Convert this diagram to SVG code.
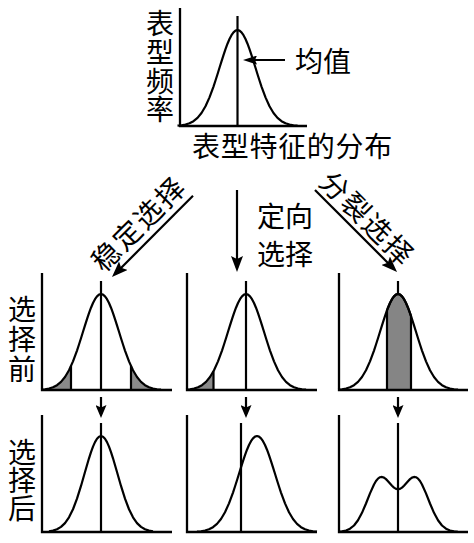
<svg xmlns="http://www.w3.org/2000/svg" xmlns:xlink="http://www.w3.org/1999/xlink" width="474" height="543" viewBox="0 0 474 543">
<style>
.t{font-family:"Noto Sans CJK SC","Noto Sans",sans-serif;font-size:28px;fill:#000}
.v{writing-mode:vertical-rl;text-orientation:upright}
.ax{fill:none;stroke:#000;stroke-width:2.3;stroke-linejoin:miter}
.ln{fill:none;stroke:#000;stroke-width:2.2}
.cv{fill:none;stroke:#000;stroke-width:2.2;stroke-linejoin:round}
.sh{fill:#8a8a8a;stroke:none}
.bd{fill:#858585;stroke:#000;stroke-width:2.2}
.ar{fill:none;stroke:#000;stroke-width:2.2}
</style>
<defs>
<path id="g" d="M-60,-0.37 L-56,-0.76 L-52,-1.48 L-48,-2.74 L-44,-4.84 L-40,-8.12 L-36,-12.99 L-32,-19.77 L-28,-28.63 L-24,-39.47 L-22,-45.48 L-20,-51.78 L-18,-58.23 L-16,-64.67 L-14,-70.94 L-12,-76.87 L-10,-82.27 L-8,-86.97 L-6,-90.81 L-4,-93.66 L-2,-95.41 L0,-96 L2,-95.41 L4,-93.66 L6,-90.81 L8,-86.97 L10,-82.27 L12,-76.87 L14,-70.94 L16,-64.67 L18,-58.23 L20,-51.78 L22,-45.48 L24,-39.47 L28,-28.63 L32,-19.77 L36,-12.99 L40,-8.12 L44,-4.84 L48,-2.74 L52,-1.48 L56,-0.76 L60,-0.37"/>
<path id="n" d="M-52,-0.67 L-48,-1.39 L-44,-2.74 L-40,-5.08 L-36,-8.89 L-32,-14.64 L-28,-22.74 L-24,-33.33 L-20,-46.05 L-16,-59.99 L-12,-73.69 L-10,-79.89 L-8,-85.36 L-6,-89.86 L-4,-93.22 L-2,-95.3 L0,-96 L2,-95.3 L4,-93.22 L6,-89.86 L8,-85.36 L10,-79.89 L12,-73.69 L16,-59.99 L20,-46.05 L24,-33.33 L28,-22.74 L32,-14.64 L36,-8.89 L40,-5.08 L44,-2.74 L48,-1.39 L52,-0.67"/>
<path id="b" d="M-60,-0.24 L-56,-0.63 L-52,-1.5 L-48,-3.28 L-44,-6.51 L-40,-11.72 L-36,-19.18 L-32,-28.51 L-28,-38.6 L-24,-47.52 L-22,-50.94 L-20,-53.39 L-18,-54.78 L-16,-55.08 L-14,-54.39 L-12,-52.88 L-10,-50.8 L-8,-48.48 L-6,-46.25 L-4,-44.38 L-2,-43.16 L0,-42.74 L2,-43.16 L4,-44.38 L6,-46.25 L8,-48.48 L10,-50.8 L12,-52.88 L14,-54.39 L16,-55.08 L18,-54.78 L20,-53.39 L22,-50.94 L24,-47.52 L28,-38.6 L32,-28.51 L36,-19.18 L40,-11.72 L44,-6.51 L48,-3.28 L52,-1.5 L56,-0.63 L60,-0.24"/>
<marker id="big" viewBox="0 0 16 12" markerWidth="16" markerHeight="12" refX="12" refY="6" orient="auto" markerUnits="userSpaceOnUse"><path d="M0,0 L16,6 L0,12 L3,6 Z" fill="#000"/></marker>
<marker id="sm" viewBox="0 0 13 11" markerWidth="13" markerHeight="11" refX="9" refY="5.5" orient="auto" markerUnits="userSpaceOnUse"><path d="M0,0 L13,5.5 L0,11 L2.5,5.5 Z" fill="#000"/></marker>
<marker id="mn" viewBox="0 0 14 9" markerWidth="14" markerHeight="9" refX="10" refY="4.5" orient="auto" markerUnits="userSpaceOnUse"><path d="M0,0 L14,4.5 L0,9 L2,4.5 Z" fill="#000"/></marker>
</defs>

<g id="top-chart">
<use xlink:href="#g" href="#g" class="cv" transform="translate(237.5,126)"/>
<path class="ln" d="M237.5,16 V126"/>
<path class="ax" d="M180,8 V126 H307"/>
<text class="t v" x="160" y="67" text-anchor="middle" letter-spacing="0.8">表型频率</text>
<text class="t" x="292.5" y="157" text-anchor="middle" letter-spacing="0.7">表型特征的分布</text>
</g>

<g id="mean-label">
<text class="t" x="295" y="71.5">均值</text>
</g>

<g id="label-stabilizing">
<text class="t" transform="translate(138.5,223.5) rotate(-45)" x="0" y="10.6" text-anchor="middle" letter-spacing="2">稳定选择</text>
</g>
<g id="label-directional">
<text class="t" x="285" y="227" text-anchor="middle">定向</text>
<text class="t" x="285" y="265" text-anchor="middle">选择</text>
</g>
<g id="label-disruptive">
<text class="t" transform="translate(367.5,218.5) rotate(45)" x="0" y="10.6" text-anchor="middle" letter-spacing="2">分裂选择</text>
</g>

<g id="label-before">
<text class="t v" x="22" y="340" text-anchor="middle" letter-spacing="2">选择前</text>
</g>
<g id="label-after">
<text class="t v" x="22" y="480" text-anchor="middle">选择后</text>
</g>

<g id="before-stabilizing" transform="translate(101,390)">
<path class="sh" d="M-60,0 L-60,-0.37 L-56,-0.76 L-52,-1.48 L-48,-2.74 L-44,-4.84 L-40,-8.12 L-36,-12.99 L-32,-19.77 L-30,-23.94 L-30,0 Z"/>
<path class="sh" d="M60,0 L60,-0.37 L56,-0.76 L52,-1.48 L48,-2.74 L44,-4.84 L40,-8.12 L36,-12.99 L32,-19.77 L30,-23.94 L30,0 Z"/>
<path class="ln" d="M-30,0 V-23.94 M30,0 V-23.94"/>
<use xlink:href="#g" href="#g" class="cv"/>
<path class="ln" d="M0,-109 V0"/>
<path class="ax" d="M-59,-117 V0 H71"/>
</g>

<g id="before-directional" transform="translate(246,390)">
<path class="sh" d="M-60,0 L-60,-0.37 L-56,-0.76 L-52,-1.48 L-48,-2.74 L-44,-4.84 L-40,-8.12 L-36,-12.99 L-32.5,-18.8 L-32.5,0 Z"/>
<path class="ln" d="M-32.5,0 V-18.8"/>
<use xlink:href="#g" href="#g" class="cv"/>
<path class="ln" d="M0,-109 V0"/>
<path class="ax" d="M-59,-117 V0 H71"/>
</g>

<g id="before-disruptive" transform="translate(398,390)">
<path class="bd" d="M-11,0 L-11,-79.65 L-10,-82.27 L-8,-86.97 L-6,-90.81 L-4,-93.66 L-2,-95.41 L0,-96 L2,-95.41 L4,-93.66 L6,-90.81 L8,-86.97 L10,-82.27 L12,-76.87 L13,-73.96 L13,0 Z"/>
<use xlink:href="#g" href="#g" class="cv"/>
<path class="ln" d="M0,-109 V-96"/>
<path class="ax" d="M-59,-117 V0 H70"/>
</g>

<g id="after-stabilizing" transform="translate(101,532)">
<use xlink:href="#n" href="#n" class="cv"/>
<path class="ln" d="M0,-109 V0"/>
<path class="ax" d="M-59,-117 V0 H71"/>
</g>

<g id="after-directional" transform="translate(187,532)">
<use xlink:href="#g" href="#g" class="cv" transform="translate(70,0)"/>
<path class="ln" d="M54,-109 V0"/>
<path class="ax" d="M0,-117 V0 H130"/>
</g>

<g id="after-disruptive" transform="translate(398,532)">
<use xlink:href="#b" href="#b" class="cv"/>
<path class="ln" d="M0,-109 V0"/>
<path class="ax" d="M-59,-117 V0 H70"/>
</g>

<g id="connectors">
<path class="ar" d="M285,60 H247" marker-end="url(#mn)"/>
<path class="ar" d="M193,195.7 L114.8,274.2" marker-end="url(#big)"/>
<path class="ar" d="M237,190 V268" marker-end="url(#big)"/>
<path class="ar" d="M315,190 L394.2,269.2" marker-end="url(#big)"/>
<path class="ar" d="M101,397 V414" marker-end="url(#sm)"/>
<path class="ar" d="M246,397 V414" marker-end="url(#sm)"/>
<path class="ar" d="M398,397 V414" marker-end="url(#sm)"/>
</g>
</svg>
